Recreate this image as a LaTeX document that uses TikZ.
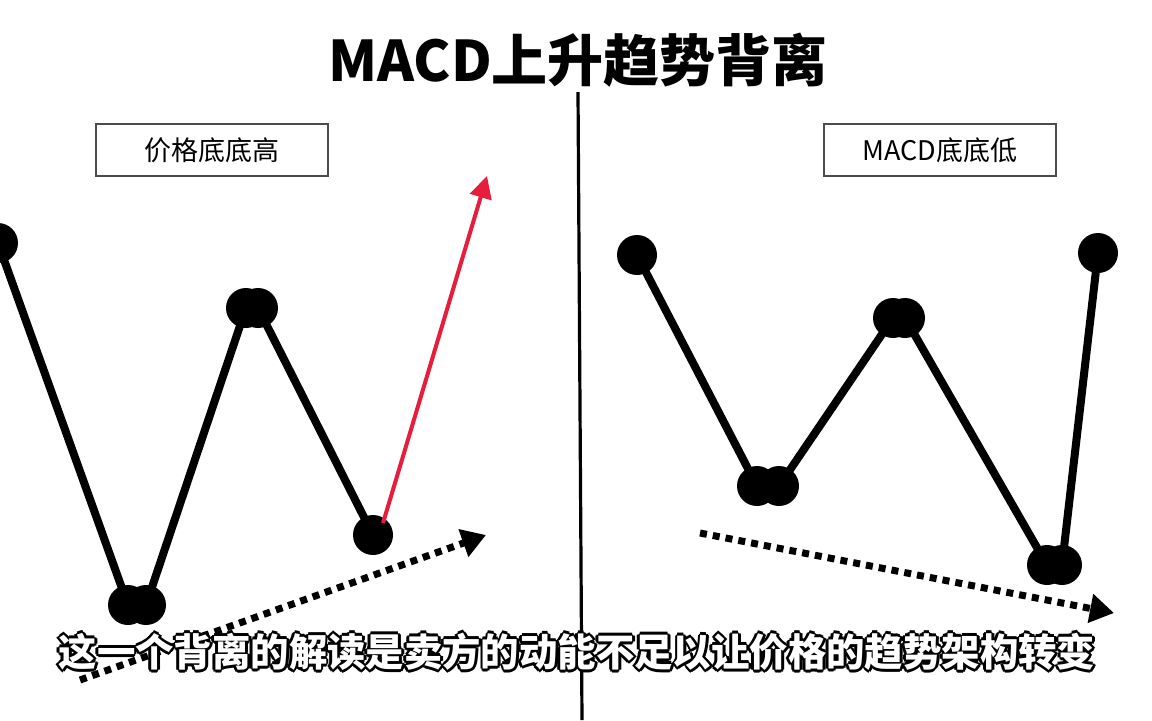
\documentclass[tikz,border=0pt]{standalone}
\usepackage{fontspec}
\newfontfamily\cjk{Noto Sans CJK SC}
\usetikzlibrary{arrows.meta}
\tikzset{
  wline/.style={line width=4pt, line join=round},
  dot/.style={circle, fill=black, minimum size=20pt, inner sep=0pt},
  lbox/.style={draw=black!70, line width=0.6pt, minimum width=116pt, minimum height=26pt, font=\cjk\fontsize{13.5}{15}\selectfont},
  dotarrow/.style={line width=3.5pt, dash pattern=on 3.5pt off 3pt, -{Triangle[length=12pt,width=14pt]}},
}
\begin{document}
\begin{tikzpicture}[x=0.5pt,y=-0.5pt]
\useasboundingbox (0,0) rectangle (1152,720);
\fill[white] (0,0) rectangle (1152,720);
\node (title) at (578,60) {\cjk\bfseries\fontsize{28}{30}\selectfont MACD上升趋势背离};
\coordinate (vt) at (578,92); \coordinate (vb) at (582,720);
\draw[line width=1.6pt] (vt) -- (vb);
\node[lbox] (bl) at (212,150) {价格底底高};
\node[lbox] (br) at (940,150) {MACD底底低};
% left W
\node[dot] (a1) at (-2,243) {};
\node[dot] (a2) at (128,605) {}; \node[dot] (a3) at (146,605) {};
\node[dot] (a4) at (246,308) {}; \node[dot] (a5) at (258,308) {};
\node[dot] (a6) at (373,535) {};
\draw[wline] (a1.center) -- (a2.center) -- (a3.center) -- (a4.center) -- (a5.center) -- (a6.center);
\coordinate (rt) at (487,176);
\draw[line width=2pt, color={rgb,255:red,230;green,30;blue,60}, -{Triangle[length=11pt,width=11pt]}] (a6.center) ++(10,-12) -- (rt);
\coordinate (d1s) at (80,680); \coordinate (d1e) at (486,535);
\draw[dotarrow] (d1s) -- (d1e);
% right W
\node[dot] (b1) at (637,255) {};
\node[dot] (b2) at (757,486) {}; \node[dot] (b3) at (779,486) {};
\node[dot] (b4) at (893,318) {}; \node[dot] (b5) at (905,318) {};
\node[dot] (b6) at (1047,565) {}; \node[dot] (b7) at (1062,565) {};
\node[dot] (b8) at (1098,253) {};
\draw[wline] (b1.center) -- (b2.center) -- (b3.center) -- (b4.center) -- (b5.center) -- (b6.center) -- (b7.center) -- (b8.center);
\coordinate (d2s) at (700,533); \coordinate (d2e) at (1114,613);
\draw[dotarrow] (d2s) -- (d2e);
% subtitle
\foreach \dx/\dy in {-2/0,2/0,0/-2,0/2,-1.5/-1.5,1.5/1.5,-1.5/1.5,1.5/-1.5,-3/0,3/0,0/3,0/-3}
  \node[text=black] at ({577+\dx},{652+\dy}) {\cjk\bfseries\fontsize{19.2}{21}\selectfont 这一个背离的解读是卖方的动能不足以让价格的趋势架构转变};
\node[text=white] (sub) at (577,652) {\cjk\bfseries\fontsize{19.2}{21}\selectfont 这一个背离的解读是卖方的动能不足以让价格的趋势架构转变};
\end{tikzpicture}
\end{document}
